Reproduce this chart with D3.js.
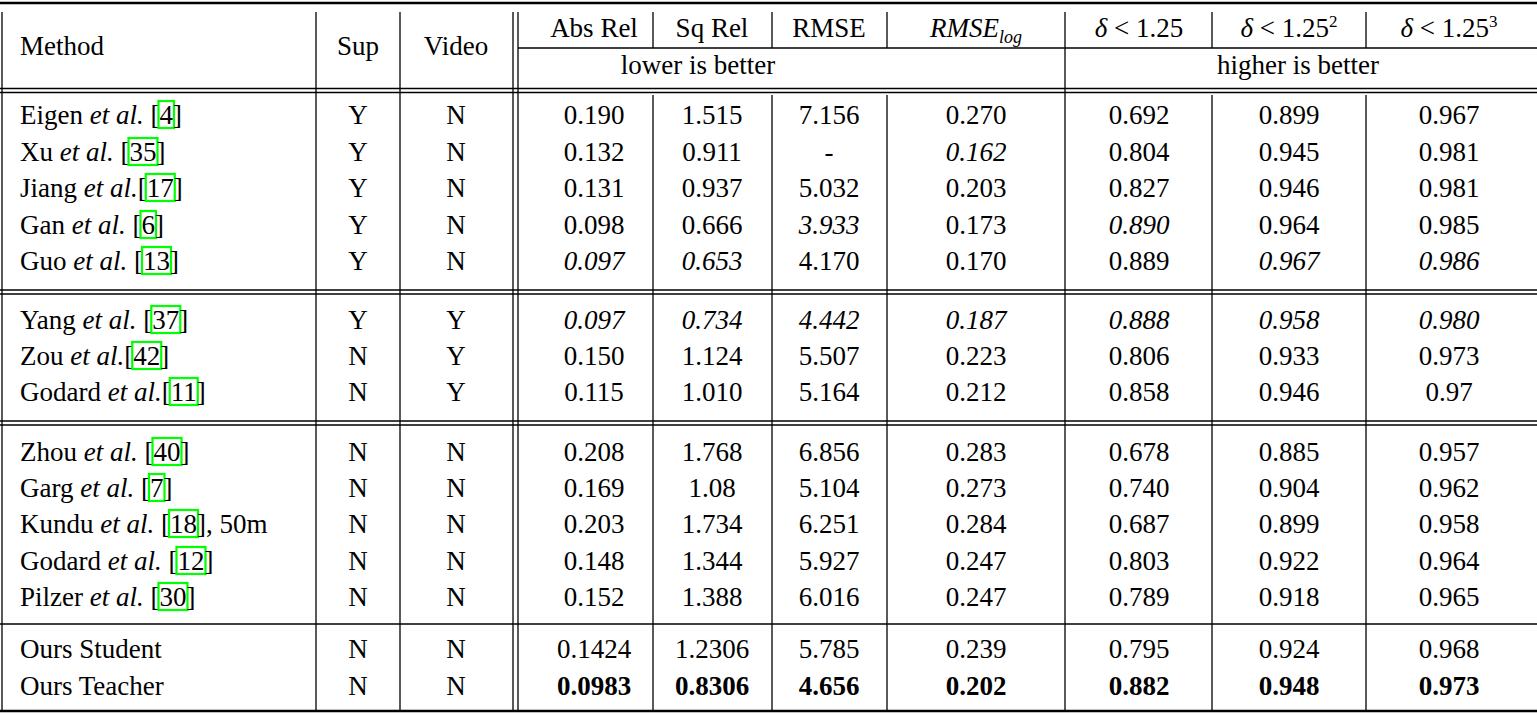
<!DOCTYPE html><html><head><meta charset="utf-8">
<script src="https://cdn.jsdelivr.net/npm/d3@7"></script>
<style>body{margin:0;background:#fff}text{font-family:"Liberation Serif","Tinos","Times New Roman","Times","DejaVu Serif",serif;font-size:27px;fill:#000}</style>
</head><body><svg id="c" width="1537" height="715"></svg>
<script>
const methods=[["Eigen","[","4","]",""],["Xu","[","35","]",""],["Jiang","","17","]",""],["Gan","[","6","]",""],["Guo","[","13","]",""],
["Yang","[","37","]",""],["Zou","","42","]",""],["Godard","","11","]",""],
["Zhou","[","40","]",""],["Garg","[","7","]",""],["Kundu","[","18","]",", 50m"],["Godard","[","12","]",""],["Pilzer","[","30","]",""],
["Ours Student"],["Ours Teacher"]];
const sup=["Y","Y","Y","Y","Y","Y","N","N","N","N","N","N","N","N","N"];
const video=["N","N","N","N","N","Y","Y","Y","N","N","N","N","N","N","N"];
const values=[
["0.190","1.515","7.156","0.270","0.692","0.899","0.967"],
["0.132","0.911","-","0.162","0.804","0.945","0.981"],
["0.131","0.937","5.032","0.203","0.827","0.946","0.981"],
["0.098","0.666","3.933","0.173","0.890","0.964","0.985"],
["0.097","0.653","4.170","0.170","0.889","0.967","0.986"],
["0.097","0.734","4.442","0.187","0.888","0.958","0.980"],
["0.150","1.124","5.507","0.223","0.806","0.933","0.973"],
["0.115","1.010","5.164","0.212","0.858","0.946","0.97"],
["0.208","1.768","6.856","0.283","0.678","0.885","0.957"],
["0.169","1.08","5.104","0.273","0.740","0.904","0.962"],
["0.203","1.734","6.251","0.284","0.687","0.899","0.958"],
["0.148","1.344","5.927","0.247","0.803","0.922","0.964"],
["0.152","1.388","6.016","0.247","0.789","0.918","0.965"],
["0.1424","1.2306","5.785","0.239","0.795","0.924","0.968"],
["0.0983","0.8306","4.656","0.202","0.882","0.948","0.973"]];
const styles=[
"","","","","","","",
"","","","i","","","",
"","","","","","","",
"","","i","","i","","",
"i","i","","","","i","i",
"i","i","i","i","i","i","i",
"","","","","","","",
"","","","","","","",
"","","","","","","",
"","","","","","","",
"","","","","","","",
"","","","","","","",
"","","","","","","",
"","","","","","","",
"b","b","b","b","b","b","b"];
const rowY=[115,152,188,225,261,320,356,392,452,488,524,561,597,649,686];
const colX=[594,712,829,976,1139,1289,1449];
const svg=d3.select("#c");
const line=(x1,y1,x2,y2,w)=>svg.append("line").attr("x1",x1).attr("y1",y1).attr("x2",x2).attr("y2",y2).attr("stroke","#000").attr("stroke-width",w||1.3);
line(0,3,1537,3,2.5);line(0,711,1537,711,2.5);
line(0,88.5,1537,88.5);line(0,92.5,1537,92.5);
line(0,290,1537,290);line(0,294,1537,294);
line(0,421,1537,421);line(0,425,1537,425);
line(0,624,1537,624);
line(518,48,1537,48);
[2,316,400,513,518,1065].forEach(x=>line(x,12,x,710));
[653,772,887,1212,1366].forEach(x=>{line(x,12,x,48);line(x,95,x,710);});
const T=(x,y,s,anchor)=>svg.append("text").attr("x",x).attr("y",y).attr("dy","0.35em").attr("text-anchor",anchor||"middle").text(s||"");
T(20,46,"Method","start");T(358,46,"Sup");T(456,46,"Video");
T(594,28,"Abs Rel");T(712,28,"Sq Rel");T(829,28,"RMSE");
let t=T(976,28,"");t.append("tspan").attr("font-style","italic").text("RMSE");t.append("tspan").attr("font-style","italic").attr("font-size","18px").attr("dy","6").text("log");
[[1139,""],[1289,"2"],[1449,"3"]].forEach(([x,p])=>{let t=T(x,28,"");t.append("tspan").attr("font-style","italic").text("δ");t.append("tspan").text(" < 1.25");if(p)t.append("tspan").attr("font-size","17px").attr("dy","-10").text(p);});
T(698,65,"lower is better");T(1298,65,"higher is better");
methods.forEach((m,i)=>{
  const y=rowY[i];let x=20;
  const piece=(s,it)=>{const e=T(x,y,s,"start");if(it)e.attr("font-style","italic");const w=e.node().getComputedTextLength();x+=w;return [e,w];};
  if(m.length===1){piece(m[0]);}
  else{
    piece(m[0]+"\u00a0");piece("et al.",true);piece(m[1]?"\u00a0[":"[");
    const x0=x;const [e,w]=piece(m[2]);
    svg.append("rect").attr("x",x0-1).attr("y",y-14).attr("width",w+2).attr("height",27).attr("fill","none").attr("stroke","#00ff00").attr("stroke-width",2.2);
    piece(m[3]);if(m[4])piece(m[4]);
  }
  T(358,y,sup[i]);T(456,y,video[i]);
  values[i].forEach((v,j)=>{const e=T(colX[j],y,v);const s=styles[i*7+j];if(s==="i")e.attr("font-style","italic");if(s==="b")e.attr("font-weight","bold");});
});
</script></body></html>
